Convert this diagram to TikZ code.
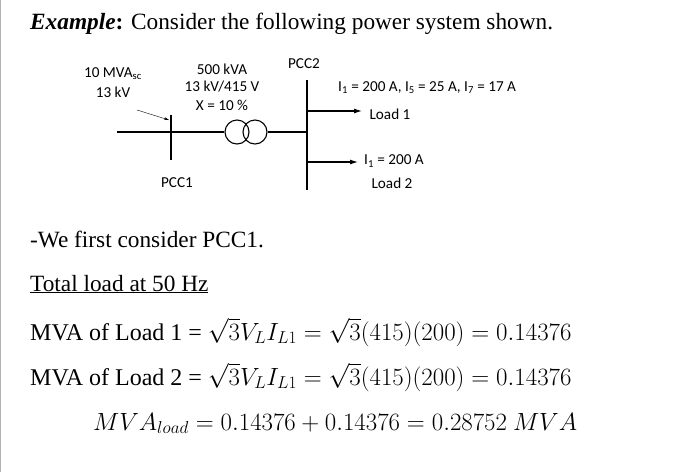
\documentclass[tikz,border=0pt]{standalone}
\usepackage{fontspec}
\setmainfont{Liberation Serif}
\newfontfamily\diagfont{Carlito}
\usetikzlibrary{arrows.meta}
\begin{document}
\begin{tikzpicture}[x=1pt,y=-1pt,
    lbl/.style={font=\diagfont\fontsize{15.2}{18}\selectfont, inner sep=0pt},
    txt/.style={font=\fontsize{23.3}{26}\selectfont, inner sep=0pt, anchor=base west},
    eqn/.style={font=\fontsize{24}{27}\selectfont, inner sep=0pt, anchor=base west},
    bus/.style={line width=1.4pt},
    wire/.style={line width=1.1pt},
    ld/.style={line width=1.1pt, -{Latex[length=8pt,width=5pt]}},
  ]
  \useasboundingbox (0,0) rectangle (700,472);
  \draw[gray!60] (0.5,0) -- (0.5,472);
  % title
  \node[txt] (title) at (30,29) {\textbf{\textit{Example}:} Consider the following power system shown.};
  % one-line diagram
  \coordinate (src) at (117,132);
  \coordinate (p1t) at (171,115);
  \coordinate (p1b) at (171,160);
  \coordinate (p1) at (171,132);
  \coordinate (p2t) at (307,80);
  \coordinate (p2b) at (307,190);
  \coordinate (p2) at (307,132);
  \coordinate (ptr) at (137,110);
  \coordinate (ptrend) at (169,120);
  \node[circle, draw, line width=1.1pt, minimum size=24pt, inner sep=0pt] (c1) at (237,132) {};
  \node[circle, draw, line width=1.1pt, minimum size=24pt, inner sep=0pt] (c2) at (255,132) {};
  \draw[bus] (p1t) -- (p1b);
  \draw[bus] (p2t) -- (p2b);
  \draw[wire] (src) -- (p1) -- (c1.west);
  \draw[wire] (c2.east) -- (p2);
  \draw[-{Stealth[length=5pt,width=3pt]}] (ptr) -- (ptrend);
  \coordinate (l1s) at (307,111);
  \coordinate (l1e) at (362,111);
  \coordinate (l2s) at (307,162);
  \coordinate (l2e) at (358,162);
  \draw[ld] (l1s) -- (l1e);
  \draw[ld] (l2s) -- (l2e);
  % labels
  \node[lbl] (sc) at (113,74) {10 MVA\textsubscript{sc}};
  \node[lbl] (kv) at (113,92) {13 kV};
  \node[lbl] (tr1) at (222,69) {500 kVA};
  \node[lbl] (tr2) at (222,87) {13 kV/415 V};
  \node[lbl] (tr3) at (222,105) {X = 10 \%};
  \node[lbl] (pcc2) at (304,64) {PCC2};
  \node[lbl] (pcc1) at (177,183) {PCC1};
  \node[lbl, anchor=west] (i1) at (338,88) {I\textsubscript{1} = 200 A, I\textsubscript{5} = 25 A, I\textsubscript{7} = 17 A};
  \node[lbl] (load1) at (390,114) {Load 1};
  \node[lbl, anchor=west] (i2) at (364,161) {I\textsubscript{1} = 200 A};
  \node[lbl] (load2) at (392,183) {Load 2};
  % text below
  \node[txt] (first) at (30,247) {-We first consider PCC1.};
  \node[txt] (total) at (30,291) {\underline{Total load at 50 Hz}};
  \node[eqn] (eq1) at (30,340) {MVA of Load 1 = $\sqrt{3}V_LI_{L1} = \sqrt{3}(415)(200) = 0.14376$};
  \node[eqn] (eq2) at (30,385) {MVA of Load 2 = $\sqrt{3}V_LI_{L1} = \sqrt{3}(415)(200) = 0.14376$};
  \node[eqn] (eq3) at (93,430) {$MVA_{load} = 0.14376 + 0.14376 = 0.28752\ MVA$};
\end{tikzpicture}
\end{document}
